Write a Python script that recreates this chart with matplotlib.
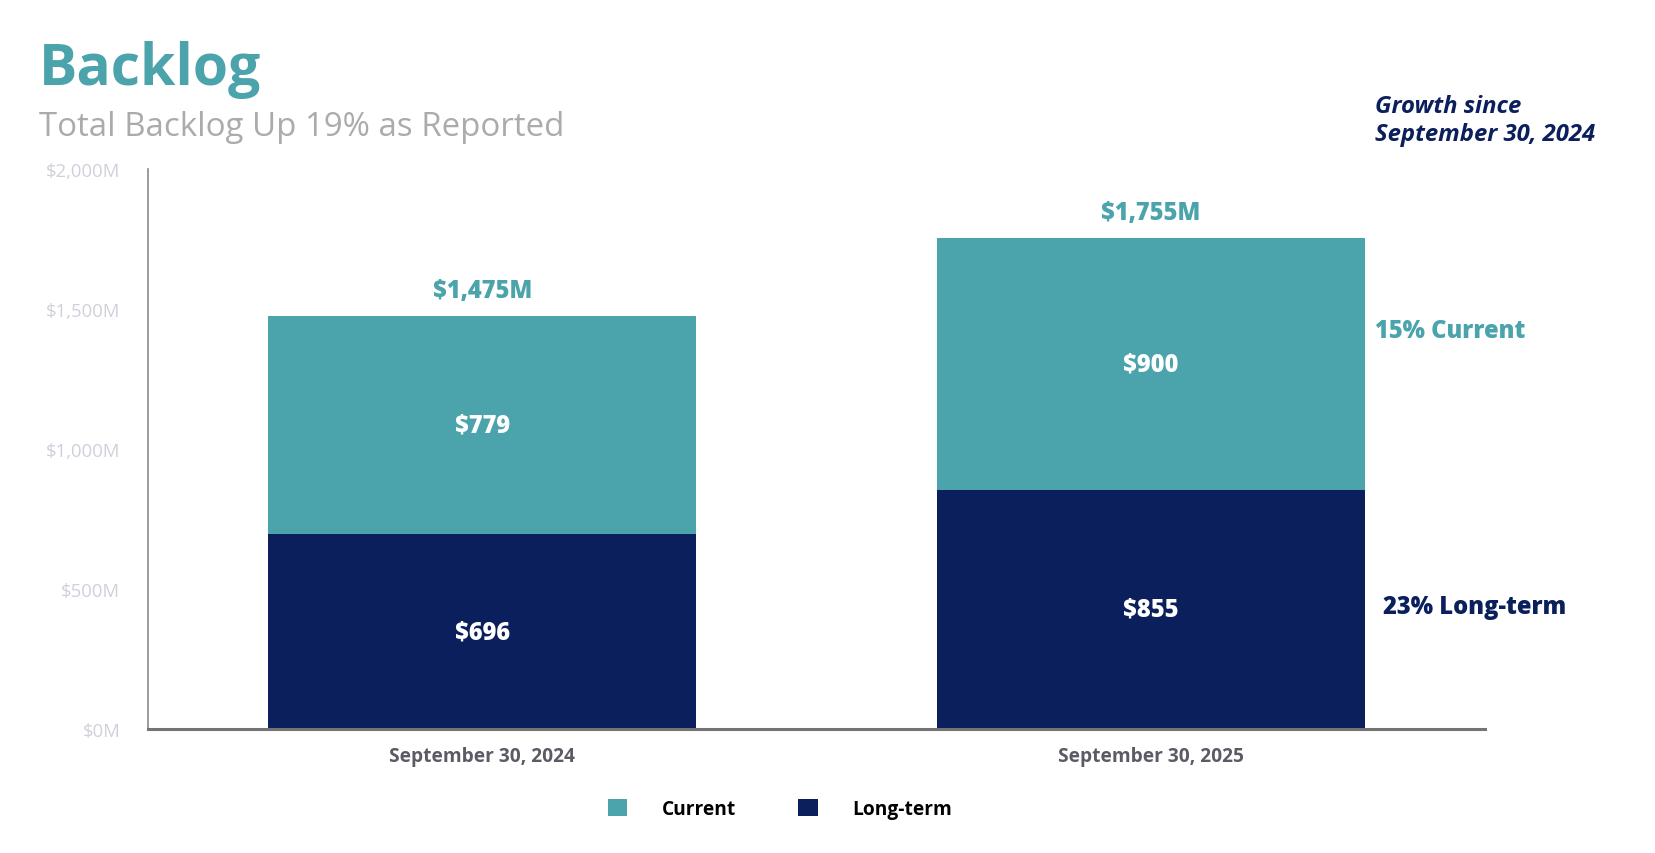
import matplotlib
matplotlib.use("Agg")
import matplotlib.pyplot as plt
from matplotlib.patches import Patch

categories = ["September 30, 2024", "September 30, 2025"]
long_term = [696, 855]
current = [779, 900]
totals = [1475, 1755]
long_labels = ["$696", "$855"]
current_labels = ["$779", "$900"]
total_labels = ["$1,475M", "$1,755M"]
yticks = [0, 500, 1000, 1500, 2000]
ytick_labels = ["$0M", "$500M", "$1,000M", "$1,500M", "$2,000M"]
series_names = ["Current", "Long-term"]

TEAL = "#4BA3AB"
NAVY = "#0A1F5B"

plt.rcParams['font.family'] = ['Open Sans', 'DejaVu Sans']

W, H = 1656, 854
fig = plt.figure(figsize=(W / 100, H / 100), dpi=100)
ax = fig.add_axes([148 / W, 1 - 730 / H, (1485 - 148) / W, (730 - 170) / H])

x = list(range(len(categories)))
bw = 0.64
ax.bar(x, long_term, width=bw, color=NAVY, zorder=2)
ax.bar(x, current, width=bw, bottom=long_term, color=TEAL, zorder=2)

for i in x:
    ax.text(i, long_term[i] / 2, long_labels[i], ha='center', va='center',
            color='white', fontsize=17, fontweight=800)
    ax.text(i, long_term[i] + current[i] / 2, current_labels[i], ha='center', va='center',
            color='white', fontsize=17, fontweight=800)
    ax.annotate(total_labels[i], (i, totals[i]), xytext=(0, 18), textcoords='offset points',
                ha='center', va='center', color=TEAL, fontsize=17, fontweight=800)

ax.set_xlim(-0.5, 1.5)
ax.set_ylim(0, 2000)
ax.set_yticks(yticks)
ax.set_yticklabels(ytick_labels)
ax.set_xticks(x)
ax.set_xticklabels(categories)
ax.tick_params(axis='y', length=0, pad=20, labelsize=13.3, labelcolor='#D0D0DC')
ax.tick_params(axis='x', length=0, pad=12, labelsize=13.8, labelcolor='#5B5B66')
for lab in ax.get_xticklabels():
    lab.set_fontweight('bold')

for s in ['top', 'right']:
    ax.spines[s].set_visible(False)
ax.spines['left'].set_color('#8A8A8A')
ax.spines['left'].set_linewidth(1.2)
ax.spines['bottom'].set_color('#747474')
ax.spines['bottom'].set_linewidth(2.2)
ax.spines['bottom'].set_zorder(3)

fig.text(1375 / W, 1 - 331 / H, "15% Current", ha='left', va='center', color=TEAL,
         fontsize=17, fontweight=800)
fig.text(1383 / W, 1 - 607 / H, "23% Long-term", ha='left', va='center', color=NAVY,
         fontsize=17, fontweight=800)

fig.text(39 / W, 1 - 85 / H, "Backlog", ha='left', va='baseline', color=TEAL,
         fontsize=41, fontweight='bold')
fig.text(39 / W, 1 - 136 / H, "Total Backlog Up 19% as Reported", ha='left', va='baseline',
         color='#ABABAB', fontsize=23.8)
fig.text(1375 / W, 1 - 107 / H, "Growth since", ha='left', va='center', color=NAVY,
         fontsize=17.2, fontweight='bold', fontstyle='italic')
fig.text(1375 / W, 1 - 135 / H, "September 30, 2024", ha='left', va='center', color=NAVY,
         fontsize=17.2, fontweight='bold', fontstyle='italic')

handles = [Patch(facecolor=TEAL, edgecolor='none'), Patch(facecolor=NAVY, edgecolor='none')]
leg = fig.legend(handles, series_names, loc='center', bbox_to_anchor=(780 / W, 1 - 810 / H),
                 ncol=2, frameon=False, handlelength=1.03, handleheight=1.03,
                 handletextpad=1.8, columnspacing=3.25,
                 prop={'family': 'Open Sans', 'weight': 'bold', 'size': 13.8})

fig.savefig("out.png", dpi=100)
